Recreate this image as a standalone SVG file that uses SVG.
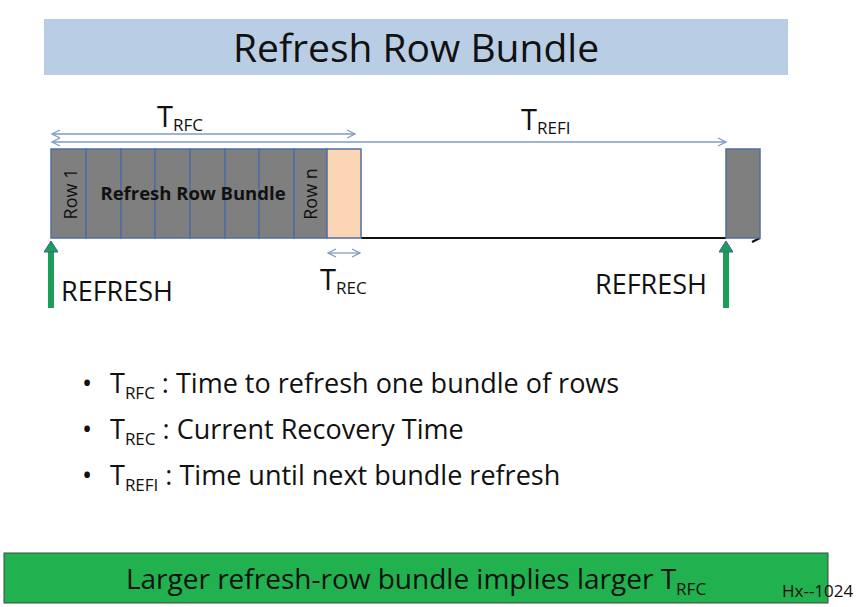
<svg xmlns="http://www.w3.org/2000/svg" width="865" height="607" viewBox="0 0 865 607">
<defs>
<style>
text{font-family:"Open Sans","Liberation Sans",sans-serif;fill:#111}
.cell{fill:#7f7f7f;stroke:#4f6fa0;stroke-width:1.5}
.dim{stroke:#7f9bc6;stroke-width:1.3;fill:none}
.big{font-size:27px}
.sub{font-size:17px}
</style>
<marker id="ah" markerWidth="10" markerHeight="10" refX="9" refY="5" orient="auto-start-reverse" markerUnits="userSpaceOnUse"><path d="M1,1 L9,5 L1,9" fill="none" stroke="#7f9bc6" stroke-width="1.3"/></marker>
<marker id="ga" markerWidth="14" markerHeight="12" refX="7" refY="11" orient="0" markerUnits="userSpaceOnUse"><path d="M0,11 L7,0 L14,11 Z" fill="#1a9e5a" stroke="#44608a" stroke-width="1"/></marker>
</defs>
<rect x="0" y="0" width="865" height="607" fill="#fff"/>
<g id="title"><rect x="44" y="19" width="744" height="56" fill="#b9cde5"/>
<text x="416" y="62" font-size="39" text-anchor="middle">Refresh Row Bundle</text></g>
<g id="connectors">
<line class="dim" x1="52" y1="134" x2="355" y2="134" marker-start="url(#ah)" marker-end="url(#ah)"/>
<line class="dim" x1="52" y1="142" x2="726" y2="142" marker-start="url(#ah)" marker-end="url(#ah)"/>
<line class="dim" x1="328" y1="253" x2="360" y2="253" marker-start="url(#ah)" marker-end="url(#ah)"/>
<line x1="361" y1="238" x2="726" y2="238" stroke="#111" stroke-width="2"/>
<line x1="752" y1="242" x2="760" y2="238" stroke="#111" stroke-width="2"/>
<line x1="51" y1="308" x2="51" y2="252" stroke="#1a9e5a" stroke-width="6" marker-end="url(#ga)"/>
<line x1="726" y1="308" x2="726" y2="252" stroke="#1a9e5a" stroke-width="6" marker-end="url(#ga)"/>
</g>
<g id="bundle">
<rect class="cell" x="51" y="149" width="35" height="89"/>
<rect class="cell" x="86" y="149" width="35" height="89"/>
<rect class="cell" x="121" y="149" width="34" height="89"/>
<rect class="cell" x="155" y="149" width="35" height="89"/>
<rect class="cell" x="190" y="149" width="35" height="89"/>
<rect class="cell" x="225" y="149" width="34" height="89"/>
<rect class="cell" x="259" y="149" width="35" height="89"/>
<rect class="cell" x="294" y="149" width="33" height="89"/>
<text transform="translate(77,194) rotate(-90)" font-size="18" text-anchor="middle">Row 1</text>
<text transform="translate(317,194) rotate(-90)" font-size="18" text-anchor="middle">Row n</text>
<text x="193" y="200" font-size="18.5" font-weight="bold" text-anchor="middle">Refresh Row Bundle</text>
</g>
<g id="trec-block"><rect x="327" y="149" width="34" height="89" fill="#fcd5b5" stroke="#4f6fa0" stroke-width="1.5"/></g>
<g id="next-block"><rect class="cell" x="726" y="149" width="34" height="89"/></g>
<g id="labels">
<text x="157" y="127" font-size="29">T<tspan class="sub" dy="4">RFC</tspan></text>
<text x="521" y="130" font-size="29">T<tspan class="sub" dy="4">REFI</tspan></text>
<text x="320" y="290" font-size="29">T<tspan class="sub" dy="4">REC</tspan></text>
<text x="61" y="301" class="big">REFRESH</text>
<text x="595" y="294" class="big">REFRESH</text>
</g>
<g id="bullets">
<text x="82" y="393" class="big">•</text>
<text x="82" y="439" class="big">•</text>
<text x="82" y="485" class="big">•</text>
<text x="110" y="393" class="big">T<tspan class="sub" dy="6">RFC</tspan><tspan dy="-6"> : Time to refresh one bundle of rows</tspan></text>
<text x="110" y="439" class="big">T<tspan class="sub" dy="6">REC</tspan><tspan dy="-6"> : Current Recovery Time</tspan></text>
<text x="110" y="485" class="big">T<tspan class="sub" dy="6">REFI</tspan><tspan dy="-6"> : Time until next bundle refresh</tspan></text>
</g>
<g id="footer"><rect x="4" y="553" width="824" height="50" fill="#21b14f" stroke="#444" stroke-width="1"/>
<text x="416" y="589" font-size="28" text-anchor="middle">Larger refresh-row bundle implies larger T<tspan class="sub" dy="6">RFC</tspan></text>
<text x="782" y="597" font-size="17" fill="#333">Hx--1024</text></g>
</svg>
